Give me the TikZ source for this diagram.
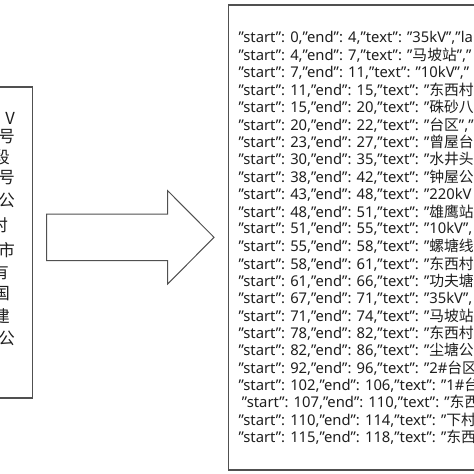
\documentclass[tikz,border=0pt]{standalone}
\usepackage{fontspec}
\setmainfont{Noto Sans}
\newfontfamily\cjk{Noto Sans CJK SC}
\definecolor{boxgray}{HTML}{505050}
\definecolor{inkgray}{HTML}{1E1E1E}
\tikzset{
    outline/.style={draw=boxgray,line width=1.4pt},
    jsonline/.style={anchor=west,inner sep=0pt,text=inkgray,font=\fontsize{14.8}{17}\selectfont},
    leftchar/.style={anchor=east,inner sep=0pt,text=inkgray,font=\fontsize{16.5}{18}\selectfont\cjk}
}

\begin{document}
\begin{tikzpicture}[x=1pt,y=-1pt]
    \useasboundingbox (0,0) rectangle (474,474);
    \clip (0,0) rectangle (474,474);
    % Left box, cut off at the page edge
    \draw[outline] (-20,87) rectangle (32.5,398);
    \node[leftchar] (c1) at (15,118) {V};
    \node[leftchar] (c2) at (15,137) {号};
    \node[leftchar] (c3) at (10,157) {段};
    \node[leftchar] (c4) at (15,178) {号};
    \node[leftchar] (c5) at (15,200) {公};
    \node[leftchar] (c6) at (8,225) {村};
    \node[leftchar] (c7) at (15,250) {市};
    \node[leftchar] (c8) at (9,272) {有};
    \node[leftchar] (c9) at (10,294) {国};
    \node[leftchar] (c10) at (10,316) {建};
    \node[leftchar] (c11) at (15,338) {公};
    % Block arrow
    \draw[draw=boxgray,line width=1pt,line join=miter]
        (46.7,214) -- (167.7,214) -- (167.7,190.7) -- (214,237.3)
        -- (167.7,284) -- (167.7,260.7) -- (46.7,260.7) -- cycle;
    % Right box with the entity list
    \draw[outline] (228.5,5) rectangle (490,470);
    \foreach \s/\e/\t [count=\i from 0] in {
        0/4/"35kV"{,}"la, 4/7/"{\cjk 马坡站}"{,}", 7/11/"10kV"{,}", 11/15/"{\cjk 东西村},
        15/20/"{\cjk 硃砂八}, 20/22/"{\cjk 台区}"{,}", 23/27/"{\cjk 曾屋台}, 30/35/"{\cjk 水井头},
        38/42/"{\cjk 钟屋公}, 43/48/"220kV, 48/51/"{\cjk 雄鹰站}, 51/55/"10kV"{,},
        55/58/"{\cjk 螺塘线}, 58/61/"{\cjk 东西村}, 61/66/"{\cjk 功夫塘}, 67/71/"35kV"{,},
        71/74/"{\cjk 马坡站}, 78/82/"{\cjk 东西村}, 82/86/"{\cjk 尘塘公}, 92/96/"2\#{\cjk 台区},
        102/106/"1\#{\cjk 台}}
        \node[jsonline] (l\i) at (238.3,38.3+17.35*\i) {"start": \s,"end": \e,"text": \t};
    \node[jsonline] (l21) at (241.7,38.3+17.35*21) {"start": 107,"end": 110,"text": "{\cjk 东西}};
    \node[jsonline] (l22) at (238.3,38.3+17.35*22) {"start": 110,"end": 114,"text": "{\cjk 下村}};
    \node[jsonline] (l23) at (238.3,38.3+17.35*23) {"start": 115,"end": 118,"text": "{\cjk 东西}};
\end{tikzpicture}
\end{document}
